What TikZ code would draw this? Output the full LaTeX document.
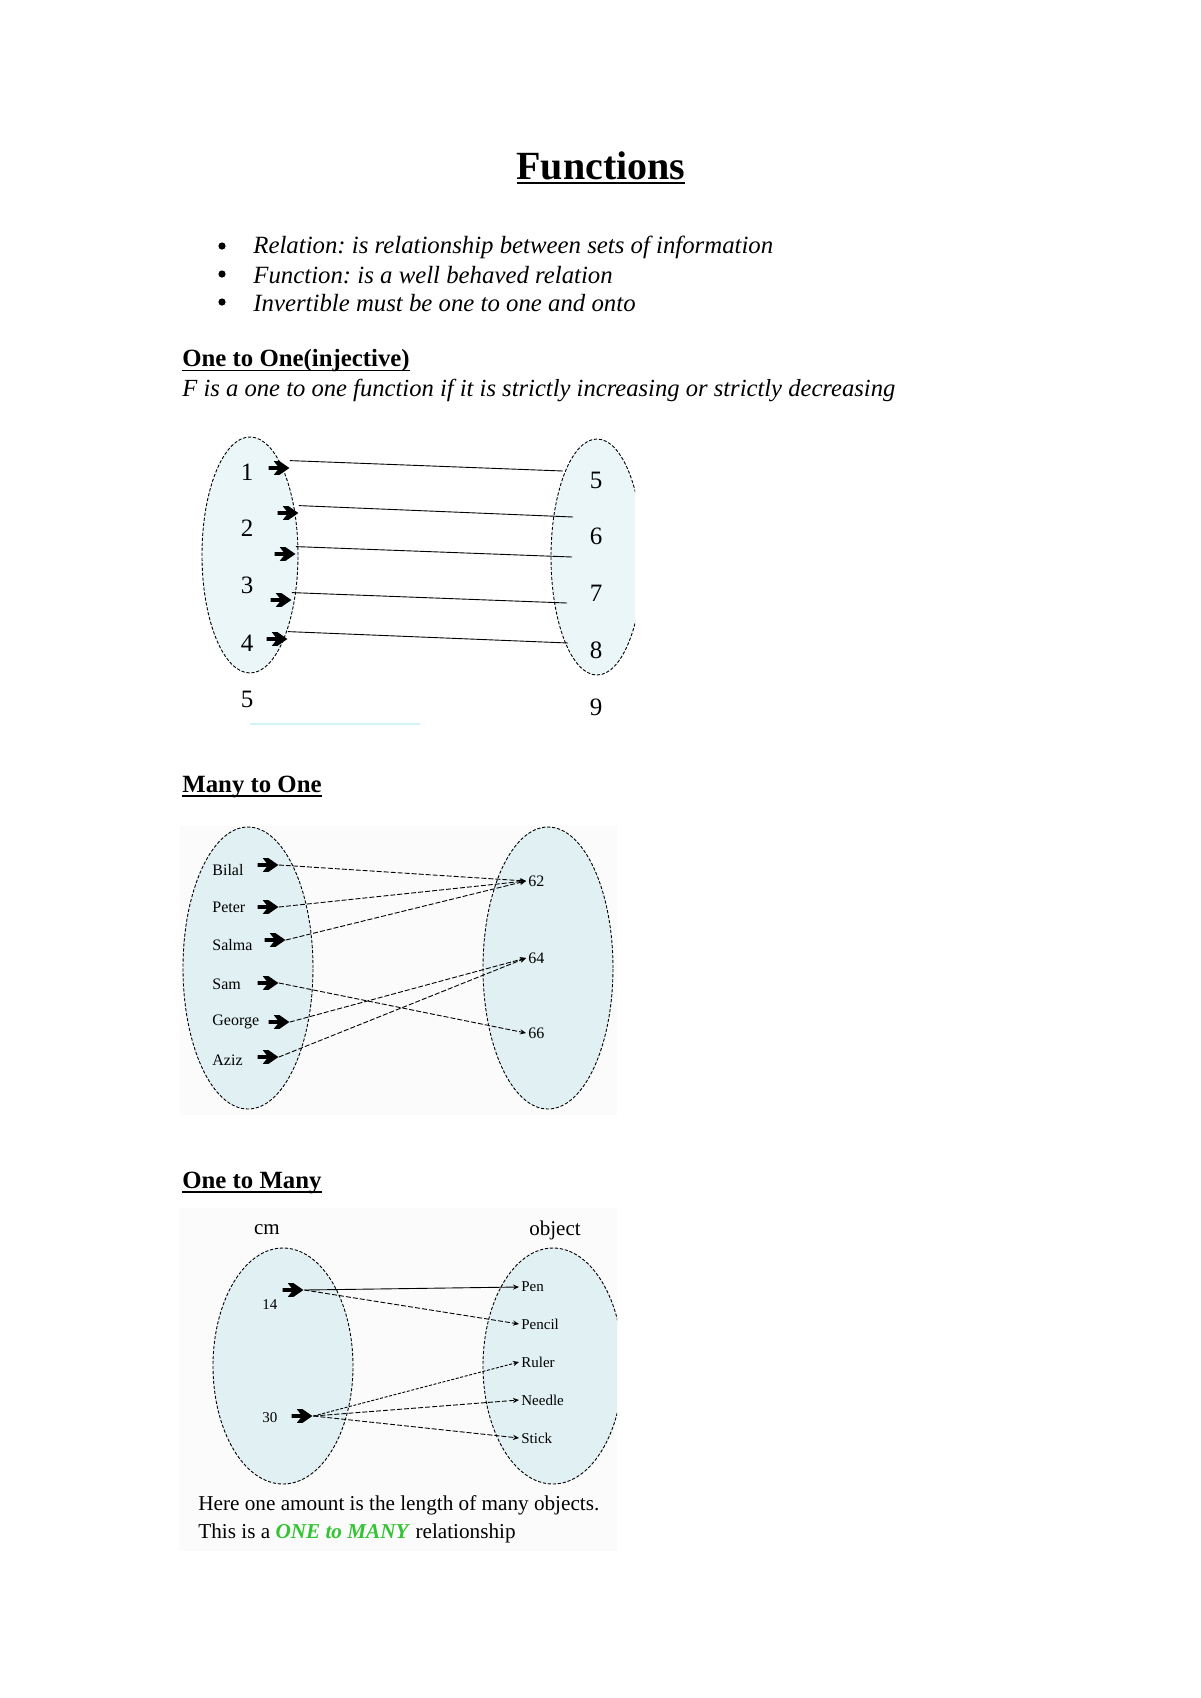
\documentclass[tikz,border=0pt]{standalone}
\usepackage{fontspec}
\setmainfont{Liberation Serif}
\usepackage{xcolor}
\usetikzlibrary{arrows.meta,positioning,shapes.geometric}
\frenchspacing

\definecolor{setblue}{HTML}{E1F1F3}
\definecolor{setdots}{HTML}{EBF6F8}
\definecolor{onegreen}{HTML}{33C433}
\definecolor{paleline}{HTML}{D2F3FA}
\definecolor{imgback}{HTML}{FBFBFB}

\newsavebox{\ulbox}
\newcommand{\undl}[1]{\sbox\ulbox{#1}\rlap{\rule[-2pt]{\wd\ulbox}{0.7pt}}\usebox\ulbox}

\begin{document}
\begin{tikzpicture}[
  x=0.5pt,y=-0.5pt,
  head/.style={anchor=west,inner sep=0pt,font=\fontsize{12.4}{15}\selectfont\bfseries},
  itxt/.style={anchor=west,inner sep=0pt,font=\fontsize{12.4}{14}\selectfont\itshape},
  bul/.style={circle,fill,inner sep=0pt,minimum size=3.6pt},
  setell/.style={ellipse,draw,dash pattern=on 1.6pt off 0.9pt,line width=0.45pt,fill=setblue,inner sep=0pt},
  num/.style={inner sep=0pt,font=\fontsize{12.5}{14}\selectfont},
  person/.style={anchor=west,inner sep=0pt,font=\fontsize{8}{10}\selectfont},
  thing/.style={anchor=west,inner sep=1pt,font=\fontsize{7.5}{9}\selectfont},
  fat/.style={inner sep=0pt,minimum width=10.5pt,minimum height=7pt,
    path picture={\fill[shift={(path picture bounding box.center)}]
      (-5.2pt,0.9pt) -- (-0.6pt,0.9pt) -- (-2.6pt,3.4pt) -- (0.3pt,3.4pt) -- (5.2pt,0pt)
      -- (0.3pt,-3.4pt) -- (-2.6pt,-3.4pt) -- (-0.6pt,-0.9pt) -- (-5.2pt,-0.9pt) -- cycle;}},
  link/.style={line width=0.45pt},
  dlink/.style={line width=0.45pt,dash pattern=on 2.5pt off 1pt,-{Stealth[length=3pt,width=2.6pt]}},
  slink/.style={line width=0.45pt,-{Stealth[length=3pt,width=2.6pt]}}
]
\useasboundingbox (0,0) rectangle (1200,1698);
\fill[white] (0,0) rectangle (1200,1698);

% page text
\node[inner sep=0pt,font=\fontsize{20}{24}\selectfont\bfseries] (title) at (601,168) {\undl{Functions}};
\node[bul] (b1) at (222,246) {};
\node[bul] (b2) at (222,274) {};
\node[bul] (b3) at (222,302) {};
\node[itxt] (t1) at (253,247) {Relation: is relationship between sets of information};
\node[itxt] (t2) at (253,275) {Function: is a well behaved relation};
\node[itxt] (t3) at (253,303) {Invertible must be one to one and onto};
\node[head] (h1) at (182,361) {\undl{One to One(injective)}};
\node[itxt,font=\fontsize{12.3}{14}\selectfont\itshape] (d1) at (182,390) {F is a one to one function if it is strictly increasing or strictly decreasing};

% one to one
\node[setell,fill=setdots,minimum width=48pt,minimum height=118pt] (L1) at (250,555) {};
\begin{scope}
  \clip (0,0) rectangle (635,1698);
  \node[setell,fill=setdots,minimum width=46pt,minimum height=118pt] (R1) at (597,557) {};
\end{scope}
\node[num] (n1) at (247,472) {1};
\node[num] (n2) at (247,528) {2};
\node[num] (n3) at (247,585) {3};
\node[num] (n4) at (247,643) {4};
\node[num] (n5) at (247,699) {5};
\node[num] (m5) at (596,480) {5};
\node[num] (m6) at (596,536) {6};
\node[num] (m7) at (596,593) {7};
\node[num] (m8) at (596,650) {8};
\node[num] (m9) at (596,707) {9};
\node[fat] (f1) at (279,468) {};
\node[fat] (f2) at (288,513) {};
\node[fat] (f3) at (285,554) {};
\node[fat] (f4) at (281,600) {};
\node[fat] (f5) at (277,639) {};
\coordinate (e1) at (563,471);
\coordinate (e2) at (573,517);
\coordinate (e3) at (572,557);
\coordinate (e4) at (567,603);
\coordinate (e5) at (568,643);
\draw[link] (f1.north east) -- (e1);
\draw[link] (f2.north east) -- (e2);
\draw[link] (f3.north east) -- (e3);
\draw[link] (f4.north east) -- (e4);
\draw[link] (f5.north east) -- (e5);
\draw[paleline,line width=1pt] (250,724) -- (420,724);

% many to one
\node[head] (h2) at (182,787) {\undl{Many to One}};
\fill[imgback] (180,826) rectangle (617,1115);
\node[setell,minimum width=65pt,minimum height=141pt] (L2) at (248,968) {};
\node[setell,minimum width=65pt,minimum height=141pt] (R2) at (548,968) {};
\node[person] (bilal) at (212,870) {Bilal};
\node[person] (peter) at (212,907) {Peter};
\node[person] (salma) at (212,945) {Salma};
\node[person] (sam) at (212,984) {Sam};
\node[person] (george) at (212,1022) {George};
\node[person] (aziz) at (212,1060) {Aziz};
\node[fat] (g1) at (268,865) {};
\node[fat] (g2) at (268,907) {};
\node[fat] (g3) at (275,940) {};
\node[fat] (g4) at (268,983) {};
\node[fat] (g5) at (279,1022) {};
\node[fat] (g6) at (268,1057) {};
\node[person,inner sep=1pt] (v62) at (526,881) {62};
\node[person,inner sep=1pt] (v64) at (526,958) {64};
\node[person,inner sep=1pt] (v66) at (526,1033) {66};
\draw[dlink] (g1.east) -- (v62.west);
\draw[dlink] (g2.east) -- (v62.west);
\draw[dlink] (g3.east) -- (v62.west);
\draw[dlink] (g4.east) -- (v66.west);
\draw[dlink] (g5.east) -- (v64.west);
\draw[dlink] (g6.east) -- (v64.west);

% one to many
\node[head] (h3) at (182,1183) {\undl{One to Many}};
\fill[imgback] (179,1208) rectangle (617,1551);
\node[inner sep=0pt,font=\fontsize{10.5}{12}\selectfont] (cm) at (267,1230) {cm};
\node[inner sep=0pt,font=\fontsize{10.5}{12}\selectfont] (obj) at (555,1230) {object};
\node[setell,minimum width=70pt,minimum height=118pt] (L3) at (283,1366) {};
\begin{scope}
  \clip (0,0) rectangle (617,1698);
  \node[setell,minimum width=70pt,minimum height=118pt] (R3) at (553,1366) {};
\end{scope}
\node[thing,inner sep=0pt] (c14) at (262,1305) {14};
\node[thing,inner sep=0pt] (c30) at (262,1418) {30};
\node[fat,minimum width=11pt] (k1) at (293,1290) {};
\node[fat,minimum width=11pt] (k2) at (302,1416) {};
\node[thing] (pen) at (519,1287) {Pen};
\node[thing] (pencil) at (519,1324) {Pencil};
\node[thing] (ruler) at (519,1362) {Ruler};
\node[thing] (needle) at (519,1400) {Needle};
\node[thing] (stick) at (519,1438) {Stick};
\draw[slink] (k1.east) -- (pen.west);
\draw[dlink] (k1.east) -- (pencil.west);
\draw[dlink,dash pattern=on 1.5pt off 0.8pt] (k2.east) -- (ruler.west);
\draw[dlink] (k2.east) -- (needle.west);
\draw[dlink] (k2.east) -- (stick.west);
\node[anchor=west,inner sep=0pt,align=left,font=\fontsize{10.6}{14}\selectfont] (note) at (198,1519)
  {Here one amount is the length of many objects.\\This is a \textcolor{onegreen}{\textbf{\textit{ONE to MANY}}} relationship};
\end{tikzpicture}
\end{document}
